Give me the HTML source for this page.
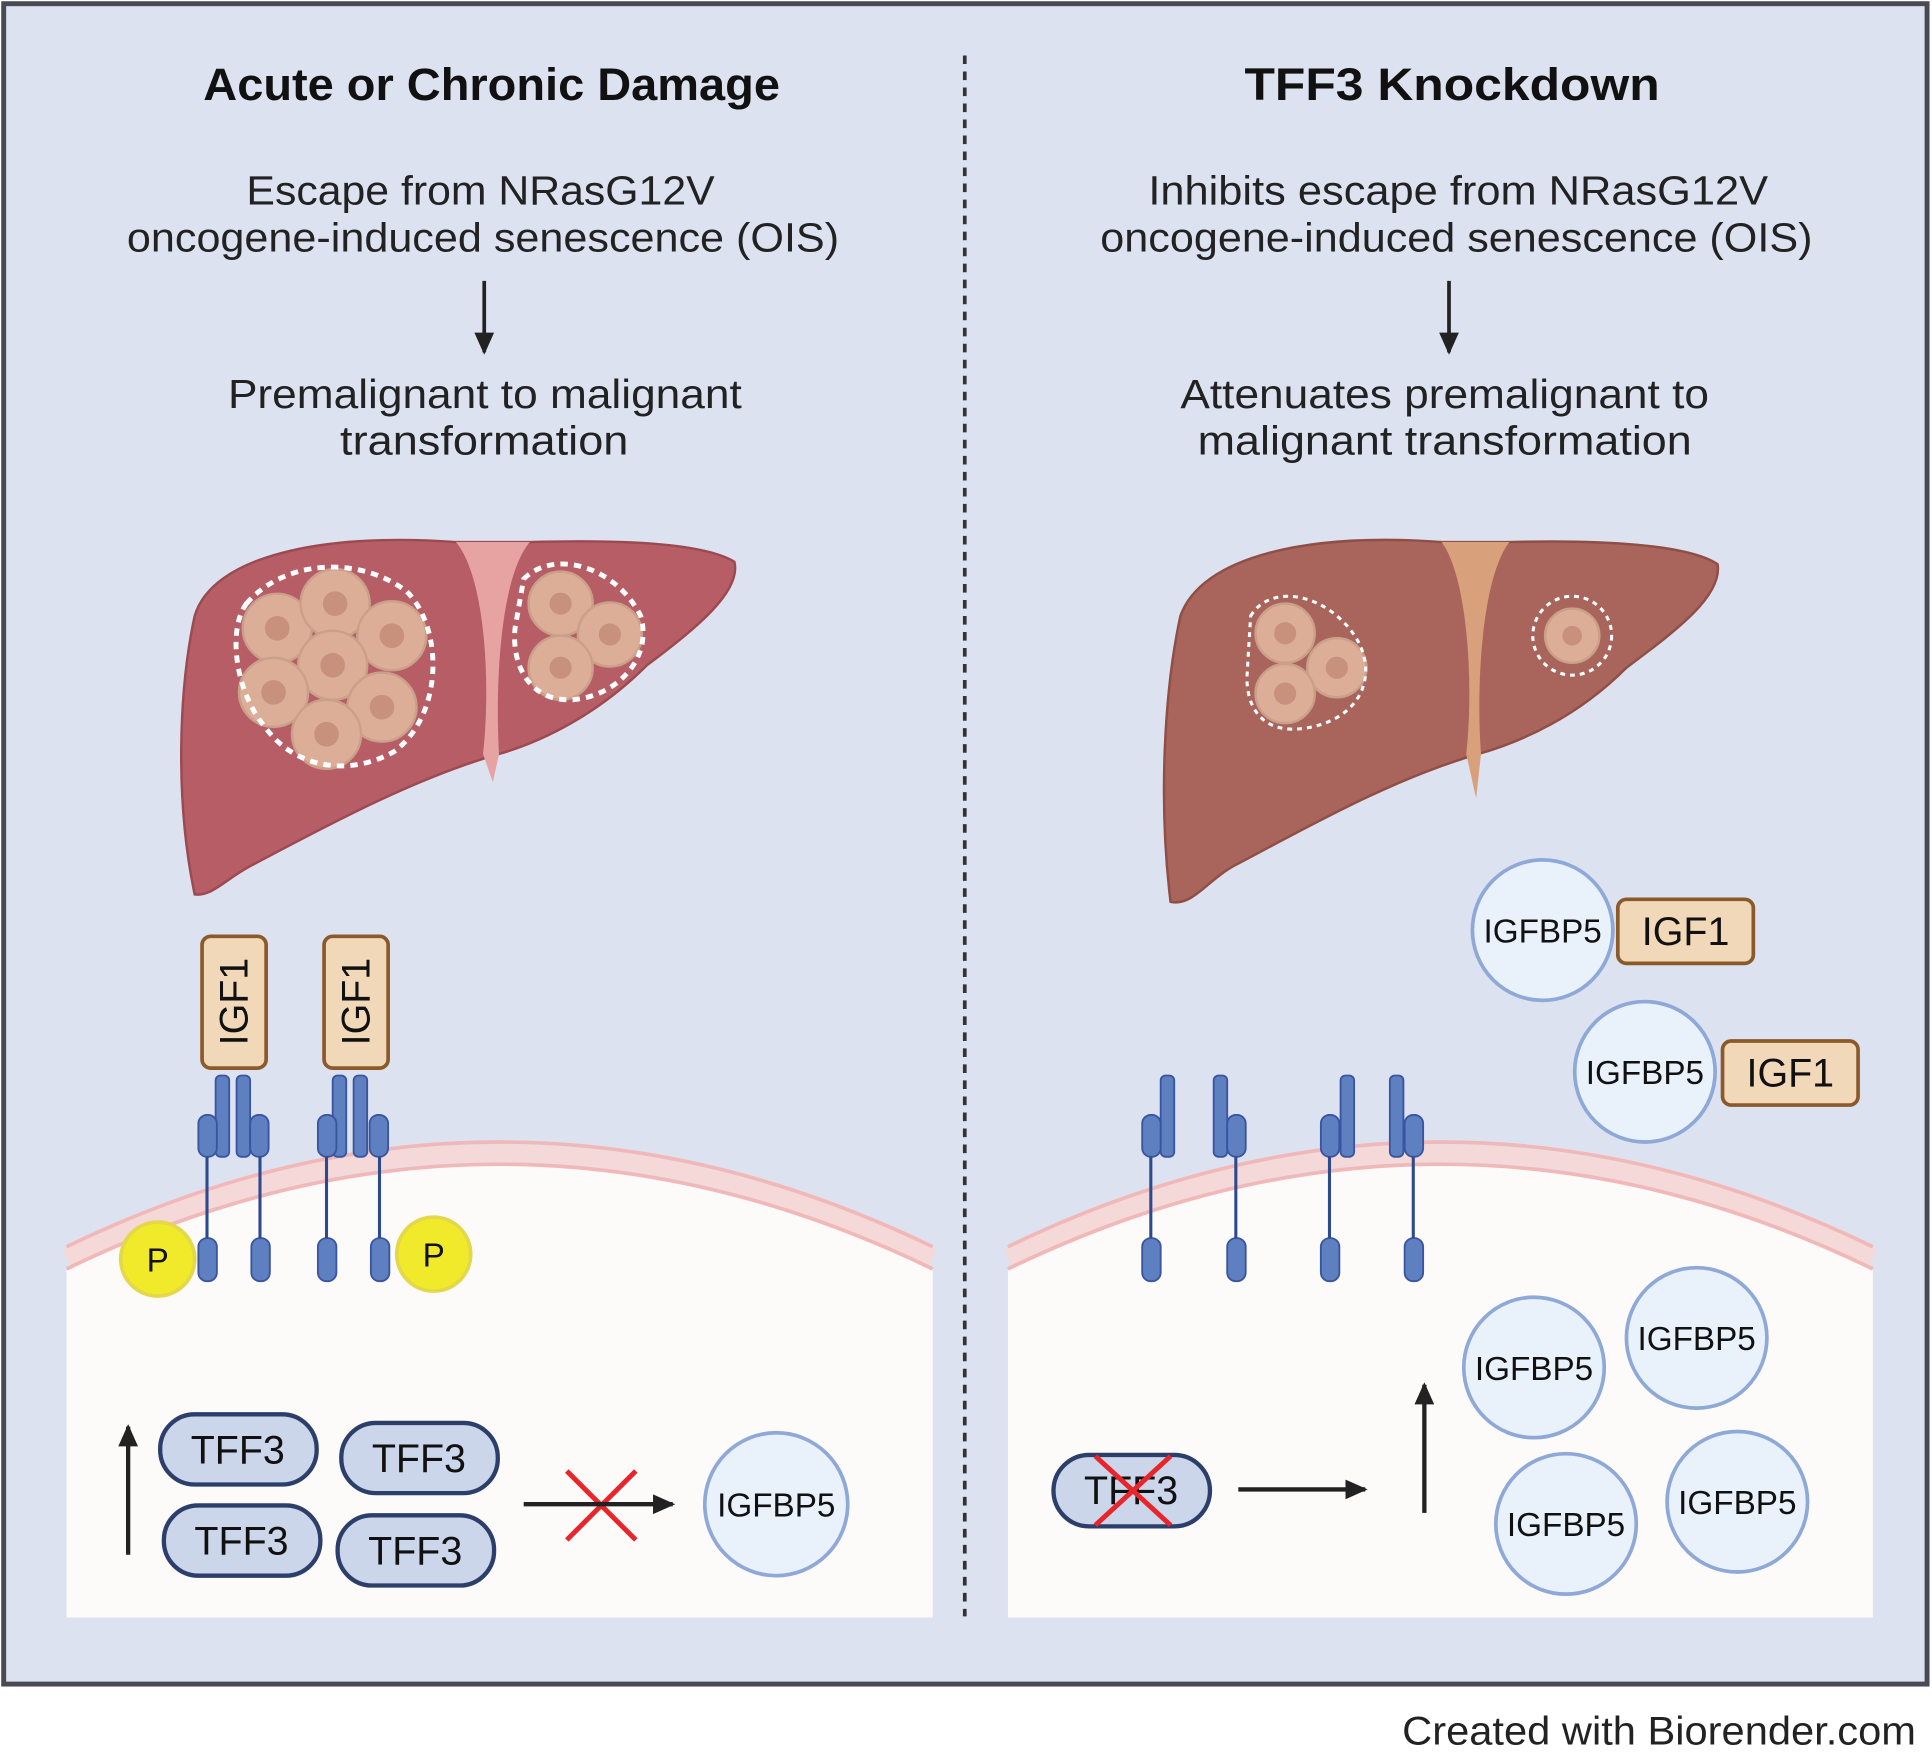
<!DOCTYPE html>
<html><head><meta charset="utf-8"><style>
html,body{margin:0;padding:0;background:#fff;}
svg{display:block;}
text{font-family:"Liberation Sans",sans-serif;}
</style></head><body>
<svg width="1932" height="1758" viewBox="0 0 1568 1427" preserveAspectRatio="none" xmlns="http://www.w3.org/2000/svg">
<defs>
<marker id="ah2" markerWidth="20" markerHeight="20" refX="16" refY="10" orient="auto" markerUnits="userSpaceOnUse"><path d="M0,2 L18,10 L0,18 Z" fill="#222"/></marker>
</defs>
<rect x="0" y="0" width="1568" height="1427" fill="#fff"/>
<rect x="3" y="3" width="1561" height="1364" fill="#dde2f1" stroke="#4a4a55" stroke-width="4"/>
<line x1="783" y1="45" x2="783" y2="1312" stroke="#333" stroke-width="3" stroke-dasharray="7,6"/>

<!-- cells -->
<path d="M54,1030 Q405,860 757,1030 L757,1313 L54,1313 Z" fill="#fdfafa"/>
<path d="M54,1021 Q405,851 757,1021" fill="none" stroke="#f5d8d8" stroke-width="14"/>
<path d="M54,1012 Q405,842 757,1012" fill="none" stroke="#f2b8b8" stroke-width="3"/>
<path d="M54,1030 Q405,860 757,1030" fill="none" stroke="#f2b8b8" stroke-width="3"/>
<path d="M818,1030 Q1169,860 1520,1030 L1520,1313 L818,1313 Z" fill="#fdfafa"/>
<path d="M818,1021 Q1169,851 1520,1021" fill="none" stroke="#f5d8d8" stroke-width="14"/>
<path d="M818,1012 Q1169,842 1520,1012" fill="none" stroke="#f2b8b8" stroke-width="3"/>
<path d="M818,1030 Q1169,860 1520,1030" fill="none" stroke="#f2b8b8" stroke-width="3"/>

<!-- titles -->
<text x="165" y="81" font-size="37" font-weight="bold" fill="#111" textLength="468" lengthAdjust="spacingAndGlyphs">Acute or Chronic Damage</text>
<text x="1010" y="81" font-size="37" font-weight="bold" fill="#111" textLength="337" lengthAdjust="spacingAndGlyphs">TFF3 Knockdown</text>
<g font-size="33" fill="#222">
<text x="200" y="166" textLength="380" lengthAdjust="spacingAndGlyphs">Escape from NRasG12V</text>
<text x="103" y="204" textLength="578" lengthAdjust="spacingAndGlyphs">oncogene-induced senescence (OIS)</text>
<text x="185" y="331" textLength="417" lengthAdjust="spacingAndGlyphs">Premalignant to malignant</text>
<text x="276" y="369" textLength="234" lengthAdjust="spacingAndGlyphs">transformation</text>
<text x="932" y="166" textLength="503" lengthAdjust="spacingAndGlyphs">Inhibits escape from NRasG12V</text>
<text x="893" y="204" textLength="578" lengthAdjust="spacingAndGlyphs">oncogene-induced senescence (OIS)</text>
<text x="958" y="331" textLength="429" lengthAdjust="spacingAndGlyphs">Attenuates premalignant to</text>
<text x="972" y="369" textLength="401" lengthAdjust="spacingAndGlyphs">malignant transformation</text>
</g>
<line x1="393" y1="228" x2="393" y2="286" stroke="#222" stroke-width="3" marker-end="url(#ah2)"/>
<line x1="1176" y1="228" x2="1176" y2="286" stroke="#222" stroke-width="3" marker-end="url(#ah2)"/>

<!-- left liver -->
<path d="M158,726 C142,650 145,560 158,500 C172,452 260,432 370,440 L430,440 C500,438 570,440 596,456 C602,480 565,510 525,540 C485,580 440,602 405,612 C335,632 262,672 205,702 C182,714 172,728 158,726 Z" fill="#b65d65" stroke="#9c4a52" stroke-width="2"/>
<path d="M370,440 C395,470 398,560 392,612 L400,635 L405,612 C402,560 405,470 430,440 Z" fill="#e7a2a2"/>
<g fill="#dcae98" stroke="#caa08a" stroke-width="2">
<circle cx="225" cy="510" r="28"/><circle cx="272" cy="490" r="28"/><circle cx="318" cy="516" r="28"/><circle cx="270" cy="540" r="28"/><circle cx="222" cy="562" r="28"/><circle cx="310" cy="574" r="28"/><circle cx="265" cy="596" r="28"/>
<circle cx="455" cy="490" r="26"/><circle cx="495" cy="515" r="26"/><circle cx="455" cy="542" r="26"/>
</g>
<g fill="#c8917c">
<circle cx="225" cy="510" r="10"/><circle cx="272" cy="490" r="10"/><circle cx="318" cy="516" r="10"/><circle cx="270" cy="540" r="10"/><circle cx="222" cy="562" r="10"/><circle cx="310" cy="574" r="10"/><circle cx="265" cy="596" r="10"/>
<circle cx="455" cy="490" r="9"/><circle cx="495" cy="515" r="9"/><circle cx="455" cy="542" r="9"/>
</g>
<path d="M200,490 C230,455 290,450 330,480 C360,510 360,580 320,610 C285,630 240,625 215,590 C190,560 185,510 200,490 Z" fill="none" stroke="#fff" stroke-width="4" stroke-dasharray="6,5"/>
<path d="M425,470 C450,445 500,460 520,500 C530,535 500,565 465,568 C430,570 415,540 418,510 Z" fill="none" stroke="#fff" stroke-width="4" stroke-dasharray="6,5"/>

<!-- right liver -->
<path d="M950,732 C940,650 945,560 958,500 C975,452 1060,432 1170,440 L1225,440 C1300,438 1370,442 1394,458 C1398,484 1360,512 1320,542 C1280,582 1235,602 1200,612 C1130,632 1060,672 1003,702 C980,714 968,736 950,732 Z" fill="#a9645b" stroke="#8f4f47" stroke-width="2"/>
<path d="M1170,440 C1192,470 1196,560 1190,612 L1198,648 L1202,612 C1198,560 1202,470 1225,440 Z" fill="#d9a07c"/>
<g fill="#dcae98" stroke="#caa08a" stroke-width="2">
<circle cx="1043" cy="514" r="24"/><circle cx="1085" cy="542" r="24"/><circle cx="1043" cy="563" r="24"/><circle cx="1276" cy="516" r="22"/>
</g>
<g fill="#c8917c"><circle cx="1043" cy="514" r="9"/><circle cx="1085" cy="542" r="9"/><circle cx="1043" cy="563" r="9"/><circle cx="1276" cy="516" r="8"/></g>
<path d="M1015,500 C1030,475 1070,480 1095,510 C1120,540 1110,580 1065,590 C1030,598 1012,580 1012,550 Z" fill="none" stroke="#fff" stroke-width="2.5" stroke-dasharray="4,4"/>
<ellipse cx="1276" cy="516" rx="32" ry="32" fill="none" stroke="#fff" stroke-width="2.5" stroke-dasharray="4,4"/>

<!-- receptors -->
<g fill="#5e7fc0" stroke="#3a55a0" stroke-width="1.5">
<rect x="175" y="873" width="11" height="66" rx="4"/><rect x="192" y="873" width="11" height="66" rx="4"/>
<rect x="161" y="905" width="15" height="34" rx="7"/><rect x="203" y="905" width="15" height="34" rx="7"/>
<rect x="161" y="1005" width="15" height="35" rx="7"/><rect x="204" y="1005" width="15" height="35" rx="7"/>
<rect x="270" y="873" width="11" height="66" rx="4"/><rect x="287" y="873" width="11" height="66" rx="4"/>
<rect x="258" y="905" width="15" height="34" rx="7"/><rect x="300" y="905" width="15" height="34" rx="7"/>
<rect x="258" y="1005" width="15" height="35" rx="7"/><rect x="301" y="1005" width="15" height="35" rx="7"/>
<rect x="942" y="873" width="11" height="66" rx="4"/><rect x="985" y="873" width="11" height="66" rx="4"/>
<rect x="927" y="905" width="15" height="34" rx="7"/><rect x="996" y="905" width="15" height="34" rx="7"/>
<rect x="927" y="1005" width="15" height="35" rx="7"/><rect x="996" y="1005" width="15" height="35" rx="7"/>
<rect x="1088" y="873" width="11" height="66" rx="4"/><rect x="1128" y="873" width="11" height="66" rx="4"/>
<rect x="1072" y="905" width="15" height="34" rx="7"/><rect x="1140" y="905" width="15" height="34" rx="7"/>
<rect x="1072" y="1005" width="15" height="35" rx="7"/><rect x="1140" y="1005" width="15" height="35" rx="7"/>
</g>
<g stroke="#2e4a8e" stroke-width="2.5">
<line x1="168" y1="939" x2="168" y2="1005"/><line x1="211" y1="939" x2="211" y2="1005"/>
<line x1="265" y1="939" x2="265" y2="1005"/><line x1="308" y1="939" x2="308" y2="1005"/>
<line x1="934" y1="939" x2="934" y2="1005"/><line x1="1003" y1="939" x2="1003" y2="1005"/>
<line x1="1079" y1="939" x2="1079" y2="1005"/><line x1="1147" y1="939" x2="1147" y2="1005"/>
</g>
<g fill="#f1d8b8" stroke="#8b5a2b" stroke-width="3">
<rect x="164" y="760" width="52" height="107" rx="7"/><rect x="263" y="760" width="52" height="107" rx="7"/>
<rect x="1313" y="730" width="110" height="52" rx="7"/><rect x="1398" y="845" width="110" height="52" rx="7"/>
</g>
<text transform="translate(201,813) rotate(-90)" font-size="32" text-anchor="middle" fill="#111">IGF1</text>
<text transform="translate(300,813) rotate(-90)" font-size="32" text-anchor="middle" fill="#111">IGF1</text>
<text x="1368" y="767" font-size="32" text-anchor="middle" fill="#111">IGF1</text>
<text x="1453" y="882" font-size="32" text-anchor="middle" fill="#111">IGF1</text>
<circle cx="128" cy="1022" r="30" fill="#f0ea2a" stroke="#e2d84a" stroke-width="3"/>
<circle cx="352" cy="1018" r="30" fill="#f0ea2a" stroke="#e2d84a" stroke-width="3"/>
<text x="128" y="1032" font-size="27" text-anchor="middle" fill="#111">P</text>
<text x="352" y="1028" font-size="27" text-anchor="middle" fill="#111">P</text>

<g fill="#e9f1fb" stroke="#8ea8d8" stroke-width="3">
<circle cx="1252" cy="755" r="57"/><circle cx="1335" cy="870" r="57"/>
<circle cx="1245" cy="1110" r="57"/><circle cx="1377" cy="1086" r="57"/>
<circle cx="1271" cy="1237" r="57"/><circle cx="1410" cy="1219" r="57"/>
<circle cx="630" cy="1221" r="58"/>
</g>
<g font-size="27" text-anchor="middle" fill="#111">
<text x="1252" y="765">IGFBP5</text><text x="1335" y="880">IGFBP5</text>
<text x="1245" y="1120">IGFBP5</text><text x="1377" y="1096">IGFBP5</text>
<text x="1271" y="1247">IGFBP5</text><text x="1410" y="1229">IGFBP5</text>
<text x="630" y="1231">IGFBP5</text>
</g>

<g fill="#ccd6ea" stroke="#2c3e6a" stroke-width="3.5">
<rect x="130" y="1148" width="127" height="57" rx="28"/><rect x="277" y="1155" width="127" height="57" rx="28"/>
<rect x="133" y="1222" width="127" height="57" rx="28"/><rect x="274" y="1230" width="127" height="57" rx="28"/>
<rect x="855" y="1181" width="127" height="58" rx="29"/>
</g>
<g font-size="32" text-anchor="middle" fill="#111">
<text x="193" y="1188">TFF3</text><text x="340" y="1195">TFF3</text>
<text x="196" y="1262">TFF3</text><text x="337" y="1270">TFF3</text>
<text x="918" y="1221">TFF3</text>
</g>
<g stroke="#e8252a" stroke-width="4">
<line x1="889" y1="1182" x2="950" y2="1238"/><line x1="950" y1="1182" x2="889" y2="1238"/>
<line x1="460" y1="1194" x2="516" y2="1250"/><line x1="516" y1="1194" x2="460" y2="1250"/>
</g>
<g stroke="#222" stroke-width="3.5">
<line x1="104" y1="1262" x2="104" y2="1158" marker-end="url(#ah2)"/>
<line x1="425" y1="1221" x2="546" y2="1221" marker-end="url(#ah2)"/>
<line x1="1005" y1="1209" x2="1108" y2="1209" marker-end="url(#ah2)"/>
<line x1="1156" y1="1228" x2="1156" y2="1124" marker-end="url(#ah2)"/>
</g>

<text x="1138" y="1416" font-size="32" fill="#222" textLength="417" lengthAdjust="spacingAndGlyphs">Created with Biorender.com</text>
</svg>
</body></html>
